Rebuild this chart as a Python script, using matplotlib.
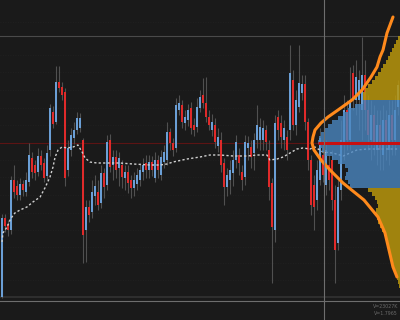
import numpy as np
import matplotlib
matplotlib.use('Agg')
import matplotlib.pyplot as plt
from matplotlib.transforms import blended_transform_factory

# levels were read as pixel rows from the top of the chart; price = TOP - row
TOP = 320

# candles: open, close, high, low (rows)
candles = [
    (297, 218, 214, 298), (218, 226, 214, 232), (224, 230, 220, 236), (230, 180, 176, 234),
    (180, 192, 165, 198), (186, 195, 180, 200), (195, 184, 178, 200), (184, 190, 180, 196),
    (192, 180, 172, 196), (182, 155, 143, 186), (158, 172, 152, 178), (165, 173, 160, 180),
    (172, 156, 148, 176), (156, 165, 150, 170), (163, 178, 158, 182), (176, 153, 145, 180),
    (150, 108, 104, 156), (112, 124, 106, 128), (122, 82, 66, 124), (82, 88, 66, 92),
    (87, 95, 82, 100), (92, 178, 88, 186), (170, 148, 140, 176), (150, 135, 128, 156),
    (138, 130, 122, 144), (130, 118, 112, 134), (128, 118, 113, 132), (140, 235, 138, 263),
    (230, 207, 200, 262), (207, 215, 200, 222), (212, 192, 180, 218), (196, 186, 175, 205),
    (192, 205, 180, 210), (203, 173, 165, 208), (173, 187, 168, 198), (185, 142, 135, 190),
    (140, 167, 134, 172), (165, 157, 150, 180), (157, 170, 150, 178), (168, 158, 152, 186),
    (165, 177, 160, 188), (178, 172, 165, 190), (172, 183, 165, 193), (180, 188, 175, 198),
    (188, 180, 172, 196), (184, 175, 168, 190), (180, 170, 163, 186), (172, 165, 158, 180),
    (163, 170, 155, 178), (170, 162, 155, 178), (162, 170, 156, 176), (178, 160, 152, 182),
    (160, 170, 155, 178), (175, 157, 150, 180), (162, 152, 145, 168), (160, 132, 122, 165),
    (132, 143, 128, 150), (143, 150, 138, 156), (148, 105, 98, 152), (110, 103, 95, 115),
    (105, 122, 100, 128), (123, 117, 110, 130), (120, 110, 104, 126), (108, 128, 102, 134),
    (125, 130, 118, 136), (127, 107, 98, 132), (108, 97, 90, 112), (95, 103, 78, 108),
    (103, 117, 77, 122), (117, 125, 110, 130), (130, 122, 114, 136), (125, 142, 118, 148),
    (146, 137, 128, 152), (140, 165, 132, 172), (163, 187, 158, 205), (187, 175, 168, 196),
    (180, 170, 160, 194), (173, 160, 150, 186), (160, 142, 135, 168), (155, 163, 148, 175),
    (172, 180, 165, 190), (177, 142, 135, 185), (148, 143, 136, 160), (147, 157, 140, 168),
    (153, 140, 133, 170), (140, 125, 105, 148), (140, 127, 118, 150), (140, 128, 120, 150),
    (130, 142, 125, 150), (150, 187, 140, 200), (183, 227, 178, 283), (230, 123, 115, 242),
    (117, 130, 110, 140), (123, 137, 115, 148), (140, 128, 120, 150), (137, 150, 130, 160),
    (130, 73, 45, 140), (80, 125, 70, 130), (125, 100, 90, 135), (107, 83, 45, 112),
    (93, 84, 75, 100), (84, 122, 75, 130), (122, 160, 118, 170), (160, 205, 155, 215),
    (185, 207, 175, 230), (200, 170, 160, 210), (180, 138, 128, 185), (155, 175, 140, 182),
    (185, 150, 140, 195), (165, 180, 155, 190), (160, 200, 150, 210), (200, 250, 185, 283),
    (243, 187, 180, 250), (190, 140, 120, 200), (145, 110, 95, 160), (110, 140, 100, 150),
    (140, 100, 67, 150), (73, 100, 65, 110), (100, 77, 60, 115), (100, 80, 70, 130),
    (110, 75, 37, 140), (75, 110, 60, 130), (110, 135, 95, 150), (140, 115, 100, 160),
    (115, 145, 105, 155), (150, 125, 110, 165), (125, 150, 110, 170), (155, 120, 105, 170),
    (120, 145, 110, 160), (150, 115, 100, 165), (115, 140, 100, 155), (140, 110, 95, 155),
    (107, 85, 80, 115),
]

# moving average (dashed), sampled along the line
ma_idx = [0, 0.3, 1.7, 2.7, 3.3, 4.3, 6, 8.3, 10.3, 12.7, 14.3, 16, 17, 17.7, 18.7, 20,
          21.7, 23.7, 25.3, 26.7, 27.7, 29.3, 31.7, 36, 39.3, 43.7, 49.3, 52.7, 55, 57,
          61.7, 66, 69.3, 72.7, 77, 81.7, 85, 88.3, 89.3, 91.7, 93.7, 96, 98.3, 100.3,
          102.7, 104.3, 107, 110.3, 113.7, 116, 118.3, 121.7, 127, 131.7]
ma_row = [242, 233, 227, 220, 217, 213, 210, 207, 202, 197, 188, 177, 167, 157, 150, 147,
          148, 147, 145, 152, 158, 162, 163, 163, 163, 164, 165, 165, 164, 162,
          159, 157, 155, 155, 156, 156, 155, 155, 160, 159, 157, 153, 149, 148,
          149, 147, 152, 153, 156, 153, 150, 149, 149, 149]

# volume profile, bins of 4 rows from row 38 down to row 286
prof_row = np.arange(38, 287, 4)
prof_vol = [2, 4, 6, 8, 10, 12, 14, 17, 19, 22, 25, 28, 32, 35, 37, 37,
            37, 45, 52, 57, 62, 68, 72, 76, 79, 81, 82, 80, 78, 74, 68, 62, 55, 52, 54, 55, 52, 50,
            32, 28, 25, 23, 22, 24, 25, 23, 22, 20, 18, 16, 15, 13, 12, 10, 9, 8, 7, 6, 5, 4, 3, 2, 1]
va_top_row, va_bot_row = 100, 188
poc_row = 143

# fitted distribution curve (orange)
curve_row = [17, 33, 50, 57, 67, 77, 90, 100, 110, 117, 123, 130, 137, 143, 150, 160, 170,
             183, 200, 217, 233, 250, 267, 277]
curve_vol = [7, 13, 17, 20, 23, 29, 38, 48, 62, 72, 79, 85, 87, 88, 86, 79, 70,
             57, 36, 22, 15, 11, 7, 3]

grid_rows = [22, 55, 72, 90, 108, 125, 160, 177, 195, 213, 230, 247, 263, 280]
cross_idx = 107.3
cross_row = 301
bg = '#1a1a1a'

o, c, h, l = (TOP - np.array(col, dtype=float) for col in zip(*candles))
x = np.arange(len(candles))
up = c >= o

fig = plt.figure(figsize=(4, 3.2), dpi=100, facecolor=bg)
ax = fig.add_axes([0, 0, 1, 1], facecolor=bg)
ax.set_xlim(-0.667, 132.667)
ax.set_ylim(0, TOP)
ax.axis('off')

for r in grid_rows:
    ax.axhline(TOP - r, color='#222222', lw=0.6, dashes=(1, 2), zorder=0)
ax.axhline(TOP - 36, color='#4a4a4a', lw=0.8, zorder=1)
ax.axhline(TOP - 297, color='#2e2e2e', lw=1.5, zorder=1)
ax.axhline(TOP - poc_row, color='#5c1414', lw=0.8, zorder=1)

ax.vlines(x, l, h, color='#505050', lw=0.8, zorder=2)
ax.bar(x[up], (c - o)[up], bottom=o[up], width=0.85, color='#6b9fd6', zorder=3)
ax.bar(x[~up], (o - c)[~up], bottom=c[~up], width=0.85, color='#e02a2a', zorder=3)
ax.plot(ma_idx, TOP - np.array(ma_row), color='#d0d0d0', lw=1.0, dashes=(1.6, 1.6), zorder=4)

# profile on a twin axis, bars grow from the right edge
ax2 = ax.twiny()
ax2.set_xlim(400, 0)
ax2.axis('off')
prof_lvl = TOP - prof_row
in_va = (prof_row >= va_top_row) & (prof_row < va_bot_row)
colors = np.where(in_va, '#4a86c0', '#b8960c')
alphas = np.where(in_va, 0.8, 0.85)
for lv, vol, col, a in zip(prof_lvl, prof_vol, colors, alphas):
    ax2.barh(lv, vol, height=4, left=0, color=col, alpha=a, lw=0)

poc_vol = prof_vol[int(np.argmin(np.abs(prof_row - poc_row)))]
ax2.hlines(TOP - poc_row, 0, poc_vol, color='#c81010', lw=2.2)
ax2.plot(curve_vol, TOP - np.array(curve_row), color='#ff8a1c', lw=2.2,
         solid_capstyle='round')

tr = blended_transform_factory(ax.transData, ax2.transAxes)
ax2.plot([cross_idx, cross_idx], [0, 1], transform=tr, color='#6e6e6e', lw=0.8)
ax2.axhline(TOP - cross_row, color='#6e6e6e', lw=0.8)

fig.text(0.995, 0.042, 'V=23027K', ha='right', va='center', fontsize=3.4, color='#6a6a6a')
fig.text(0.995, 0.02, 'V=1.7965', ha='right', va='center', fontsize=3.4, color='#6a6a6a')

fig.savefig('out.png', dpi=100, facecolor=bg)
